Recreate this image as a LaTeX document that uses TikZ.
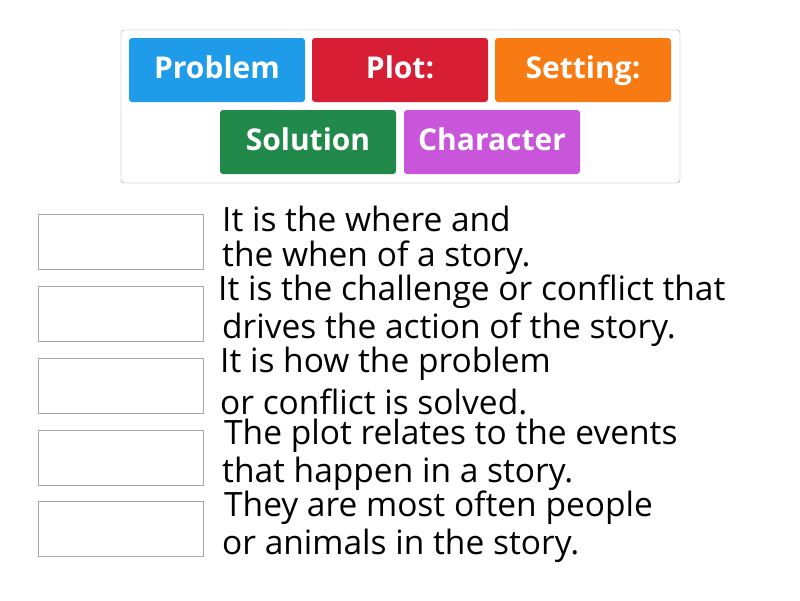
\documentclass[tikz,border=0pt]{standalone}
\usepackage{fontspec}
\setmainfont{Open Sans}
\begin{document}
\begin{tikzpicture}[x=1pt,y=-1pt,
  btn/.style={rounded corners=3pt,minimum width=176pt,minimum height=64pt,inner sep=0pt,text=white,text height=22pt,text depth=6pt,font=\fontsize{30}{30}\selectfont\bfseries},
  slot/.style={draw=gray!70,minimum width=165pt,minimum height=55pt,inner sep=0pt},
  txt/.style={anchor=west,inner sep=0pt,font=\fontsize{33.5}{33.5}\selectfont,align=left}]
\useasboundingbox (0,0) rectangle (800,600);
\node[draw=gray!80,rounded corners=3pt,minimum width=559pt,minimum height=153pt,inner sep=0pt] (frame) at (400.5,106.5) {};
\definecolor{cb}{HTML}{1E9BE9}\definecolor{cr}{HTML}{D81E34}\definecolor{co}{HTML}{F77A12}
\definecolor{cg}{HTML}{21894A}\definecolor{cp}{HTML}{C855DA}
\node[btn,fill=cb] (b1) at (217,70) {Problem};
\node[btn,fill=cr] (b2) at (400,70) {Plot:};
\node[btn,fill=co] (b3) at (583,70) {Setting:};
\node[btn,fill=cg] (b4) at (308,142) {Solution};
\node[btn,fill=cp] (b5) at (492,142) {Character};
\foreach \i/\y in {1/242,2/314,3/386,4/458,5/529}{\node[slot] (s\i) at (120.5,\y) {};}
\node[txt] (t1a) at (222,219) {It is the where and};
\node[txt] (t1b) at (222,258) {the when of a story.};
\node[txt] (t2a) at (218,292) {It is the challenge or conflict that};
\node[txt] (t2b) at (222,330) {drives the action of the story.};
\node[txt] (t3a) at (220,364) {It is how the problem};
\node[txt] (t3b) at (220,402) {or conflict is solved.};
\node[txt] (t4a) at (224,436) {The plot relates to the events};
\node[txt] (t4b) at (222,474) {that happen in a story.};
\node[txt] (t5a) at (224,508) {They are most often people};
\node[txt] (t5b) at (222,546) {or animals in the story.};
\end{tikzpicture}
\end{document}
